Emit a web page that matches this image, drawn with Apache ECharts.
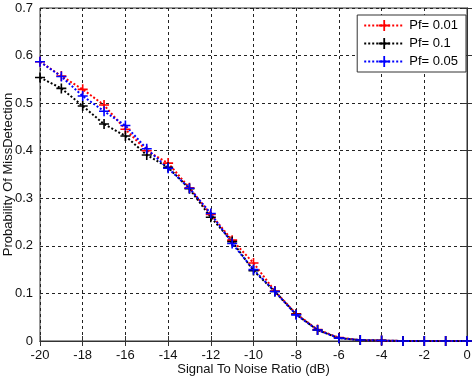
<!DOCTYPE html>
<html>
<head>
<meta charset="utf-8">
<script src="https://cdn.jsdelivr.net/npm/echarts@6/dist/echarts.min.js"></script>
<style>
  html, body { margin: 0; padding: 0; background: #fff; }
  #chart { width: 474px; height: 377px; }
</style>
</head>
<body>
<div id="chart"></div>
<script>
// SNR (dB) on x
const snr = [-20, -19, -18, -17, -16, -15, -14, -13, -12, -11, -10, -9, -8, -7, -6, -5, -4, -3, -2, -1, 0]
// probability of miss detection, one list per Pf
const pf001 = [0.587, 0.557, 0.529, 0.496, 0.445, 0.400, 0.374, 0.322, 0.266, 0.212, 0.164, 0.105, 0.057, 0.024, 0.007, 0.002, 0.001, 0, 0, 0, 0]
const pf01 = [0.554, 0.531, 0.494, 0.456, 0.431, 0.391, 0.365, 0.320, 0.260, 0.209, 0.148, 0.104, 0.056, 0.023, 0.006, 0.002, 0.001, 0, 0, 0, 0]
const pf005 = [0.587, 0.556, 0.515, 0.483, 0.453, 0.404, 0.363, 0.321, 0.268, 0.205, 0.150, 0.104, 0.055, 0.023, 0.006, 0.002, 0.001, 0, 0, 0, 0]
const seriesNames = ['Pf= 0.01', 'Pf= 0.1', 'Pf= 0.05']

const font = 'Liberation Sans, Arial, sans-serif'
const plus = 'path://M4.2,0H5.8V4.2H10V5.8H5.8V10H4.2V5.8H0V4.2H4.2Z'

function makeSeries(name, values, color) {
  return {
    name: name,
    type: 'line',
    data: snr.map((x, i) => [x, values[i]]),
    symbol: plus,
    symbolSize: 10,
    showSymbol: true,
    itemStyle: { color: color },
    lineStyle: { color: color, width: 2, type: [2, 2] },
    emphasis: { disabled: true },
    animation: false
  }
}

const chart = echarts.init(document.getElementById('chart'))
chart.setOption({
  backgroundColor: '#fff',
  textStyle: { fontFamily: font },
  grid: {
    left: 40, right: 7, top: 8, bottom: 36,
    outerBoundsMode: 'none',
    show: true, borderColor: '#333', borderWidth: 1
  },
  legend: {
    data: seriesNames,
    orient: 'vertical',
    right: 8,
    top: 15,
    backgroundColor: '#fff',
    borderColor: '#333',
    borderWidth: 1,
    padding: [4, 8, 4, 6],
    itemWidth: 40,
    itemHeight: 14,
    itemGap: 5,
    textStyle: { fontFamily: font, fontSize: 13, color: '#000' }
  },
  xAxis: [{
    type: 'value',
    min: -20, max: 0, interval: 2,
    name: 'Signal To Noise Ratio (dB)',
    nameLocation: 'middle',
    nameGap: 22,
    nameMoveOverlap: false,
    nameTextStyle: { fontFamily: font, fontSize: 13, color: '#111' },
    axisLine: { show: true, lineStyle: { color: '#333' } },
    axisTick: { inside: true, length: 5, lineStyle: { color: '#333' } },
    axisLabel: { fontFamily: font, fontSize: 13, color: '#111', margin: 8 },
    splitLine: { show: true, lineStyle: { color: '#222', type: [3, 3], width: 1 } }
  }, {
    type: 'value',
    position: 'top',
    min: -20, max: 0, interval: 2,
    axisLine: { show: true, lineStyle: { color: '#333' } },
    axisTick: { inside: true, length: 5, lineStyle: { color: '#333' } },
    axisLabel: { show: false },
    splitLine: { show: false }
  }],
  yAxis: [{
    type: 'value',
    min: 0, max: 0.7, interval: 0.1,
    name: 'Probability Of MissDetection',
    nameLocation: 'middle',
    nameGap: 25,
    nameMoveOverlap: false,
    nameTextStyle: { fontFamily: font, fontSize: 13, color: '#111' },
    axisLine: { show: true, lineStyle: { color: '#333' } },
    axisTick: { inside: true, length: 5, lineStyle: { color: '#333' } },
    axisLabel: {
      fontFamily: font, fontSize: 13, color: '#111', margin: 7,
      formatter: v => (Math.round(v * 10) / 10).toString()
    },
    splitLine: { show: true, lineStyle: { color: '#222', type: [3, 3], width: 1 } }
  }, {
    type: 'value',
    position: 'right',
    min: 0, max: 0.7, interval: 0.1,
    axisLine: { show: true, lineStyle: { color: '#333' } },
    axisTick: { inside: true, length: 5, lineStyle: { color: '#333' } },
    axisLabel: { show: false },
    splitLine: { show: false }
  }],
  series: [
    makeSeries(seriesNames[0], pf001, '#ff0000'),
    makeSeries(seriesNames[1], pf01, '#000000'),
    makeSeries(seriesNames[2], pf005, '#0000ff')
  ]
})
</script>
</body>
</html>
